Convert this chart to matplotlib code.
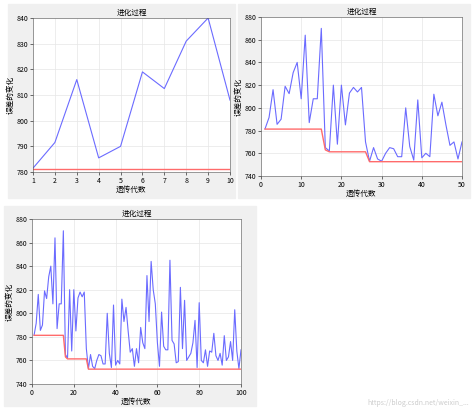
import numpy as np
import matplotlib.pyplot as plt
from matplotlib.patches import Rectangle

plt.rcParams['font.family'] = ['Noto Sans CJK SC', 'DejaVu Sans']

# 每代的适应度 (1..100)
fit = [781.5, 791.5, 816, 785.5, 790, 819, 812.5, 831, 840, 808,
       864, 787, 808, 808, 870, 765, 762, 820, 768, 820,
       785, 813, 818, 814, 818, 770, 753, 765, 755, 753,
       760, 765, 764, 757, 757, 800, 766, 754, 807, 756,
       760, 757, 812, 793, 805, 785, 767, 770, 755, 770,
       758, 788, 775, 770, 832, 793, 844, 820, 808, 775,
       755, 801, 772, 769, 769, 845, 777, 774, 758, 759,
       822, 770, 811, 760, 763, 766, 775, 794, 754, 809,
       760, 758, 769, 755, 768, 767, 783, 764, 760, 766,
       756, 781, 760, 763, 776, 760, 803, 768, 753, 769]
best = [781.3] * 15 + [763] + [761.3] * 10 + [752.6] * 74

W, H = 474, 412
fig = plt.figure(figsize=(W / 100, H / 100), dpi=100)
fig.patch.set_facecolor('white')

def px(l, t, r, b):
    return [l / W, 1 - b / H, (r - l) / W, (b - t) / H]

def panel(bg, ax_box, n, ylim, yticks, xticks):
    fig.patches.append(Rectangle((bg[0] / W, 1 - bg[3] / H), (bg[2] - bg[0]) / W,
                                 (bg[3] - bg[1]) / H, transform=fig.transFigure,
                                 color='#f0f0f0', zorder=-1))
    ax = fig.add_axes(px(*ax_box))
    x = np.arange(1, n + 1)
    ax.plot(x, fit[:n], color='#6b6bff', lw=0.8)
    ax.plot(x, best[:n], color='#ff6b6b', lw=1.0)
    ax.set_xlim(xticks[0], xticks[-1])
    ax.set_ylim(*ylim)
    ax.set_xticks(xticks)
    ax.set_yticks(yticks)
    ax.tick_params(labelsize=5, length=2, width=0.4, pad=1.5)
    ax.grid(True, color='#e6e6e6', lw=0.5)
    for s in ax.spines.values():
        s.set_linewidth(0.4)
        s.set_color('#555555')
    ax.set_title('进化过程', fontsize=5.5, pad=2)
    ax.set_xlabel('遗传代数', fontsize=5.5, labelpad=1)
    ax.set_ylabel('误差的变化', fontsize=5.5, labelpad=1)
    return ax

panel((8, 4, 235, 198), (33, 18, 230, 172), 10, (780, 840),
      range(780, 841, 10), list(range(1, 11)))
panel((238, 4, 470, 198), (261, 17, 462, 176), 50, (740, 880),
      range(740, 881, 20), [0, 10, 20, 30, 40, 50])
panel((4, 206, 256, 406), (32, 219, 241, 384), 100, (740, 880),
      range(740, 881, 20), [0, 20, 40, 60, 80, 100])

fig.text(0.99, 0.012, 'https://blog.csdn.net/weixin_...', ha='right', va='bottom',
         fontsize=5, color='#cccccc')

fig.savefig('out.png', dpi=100)
